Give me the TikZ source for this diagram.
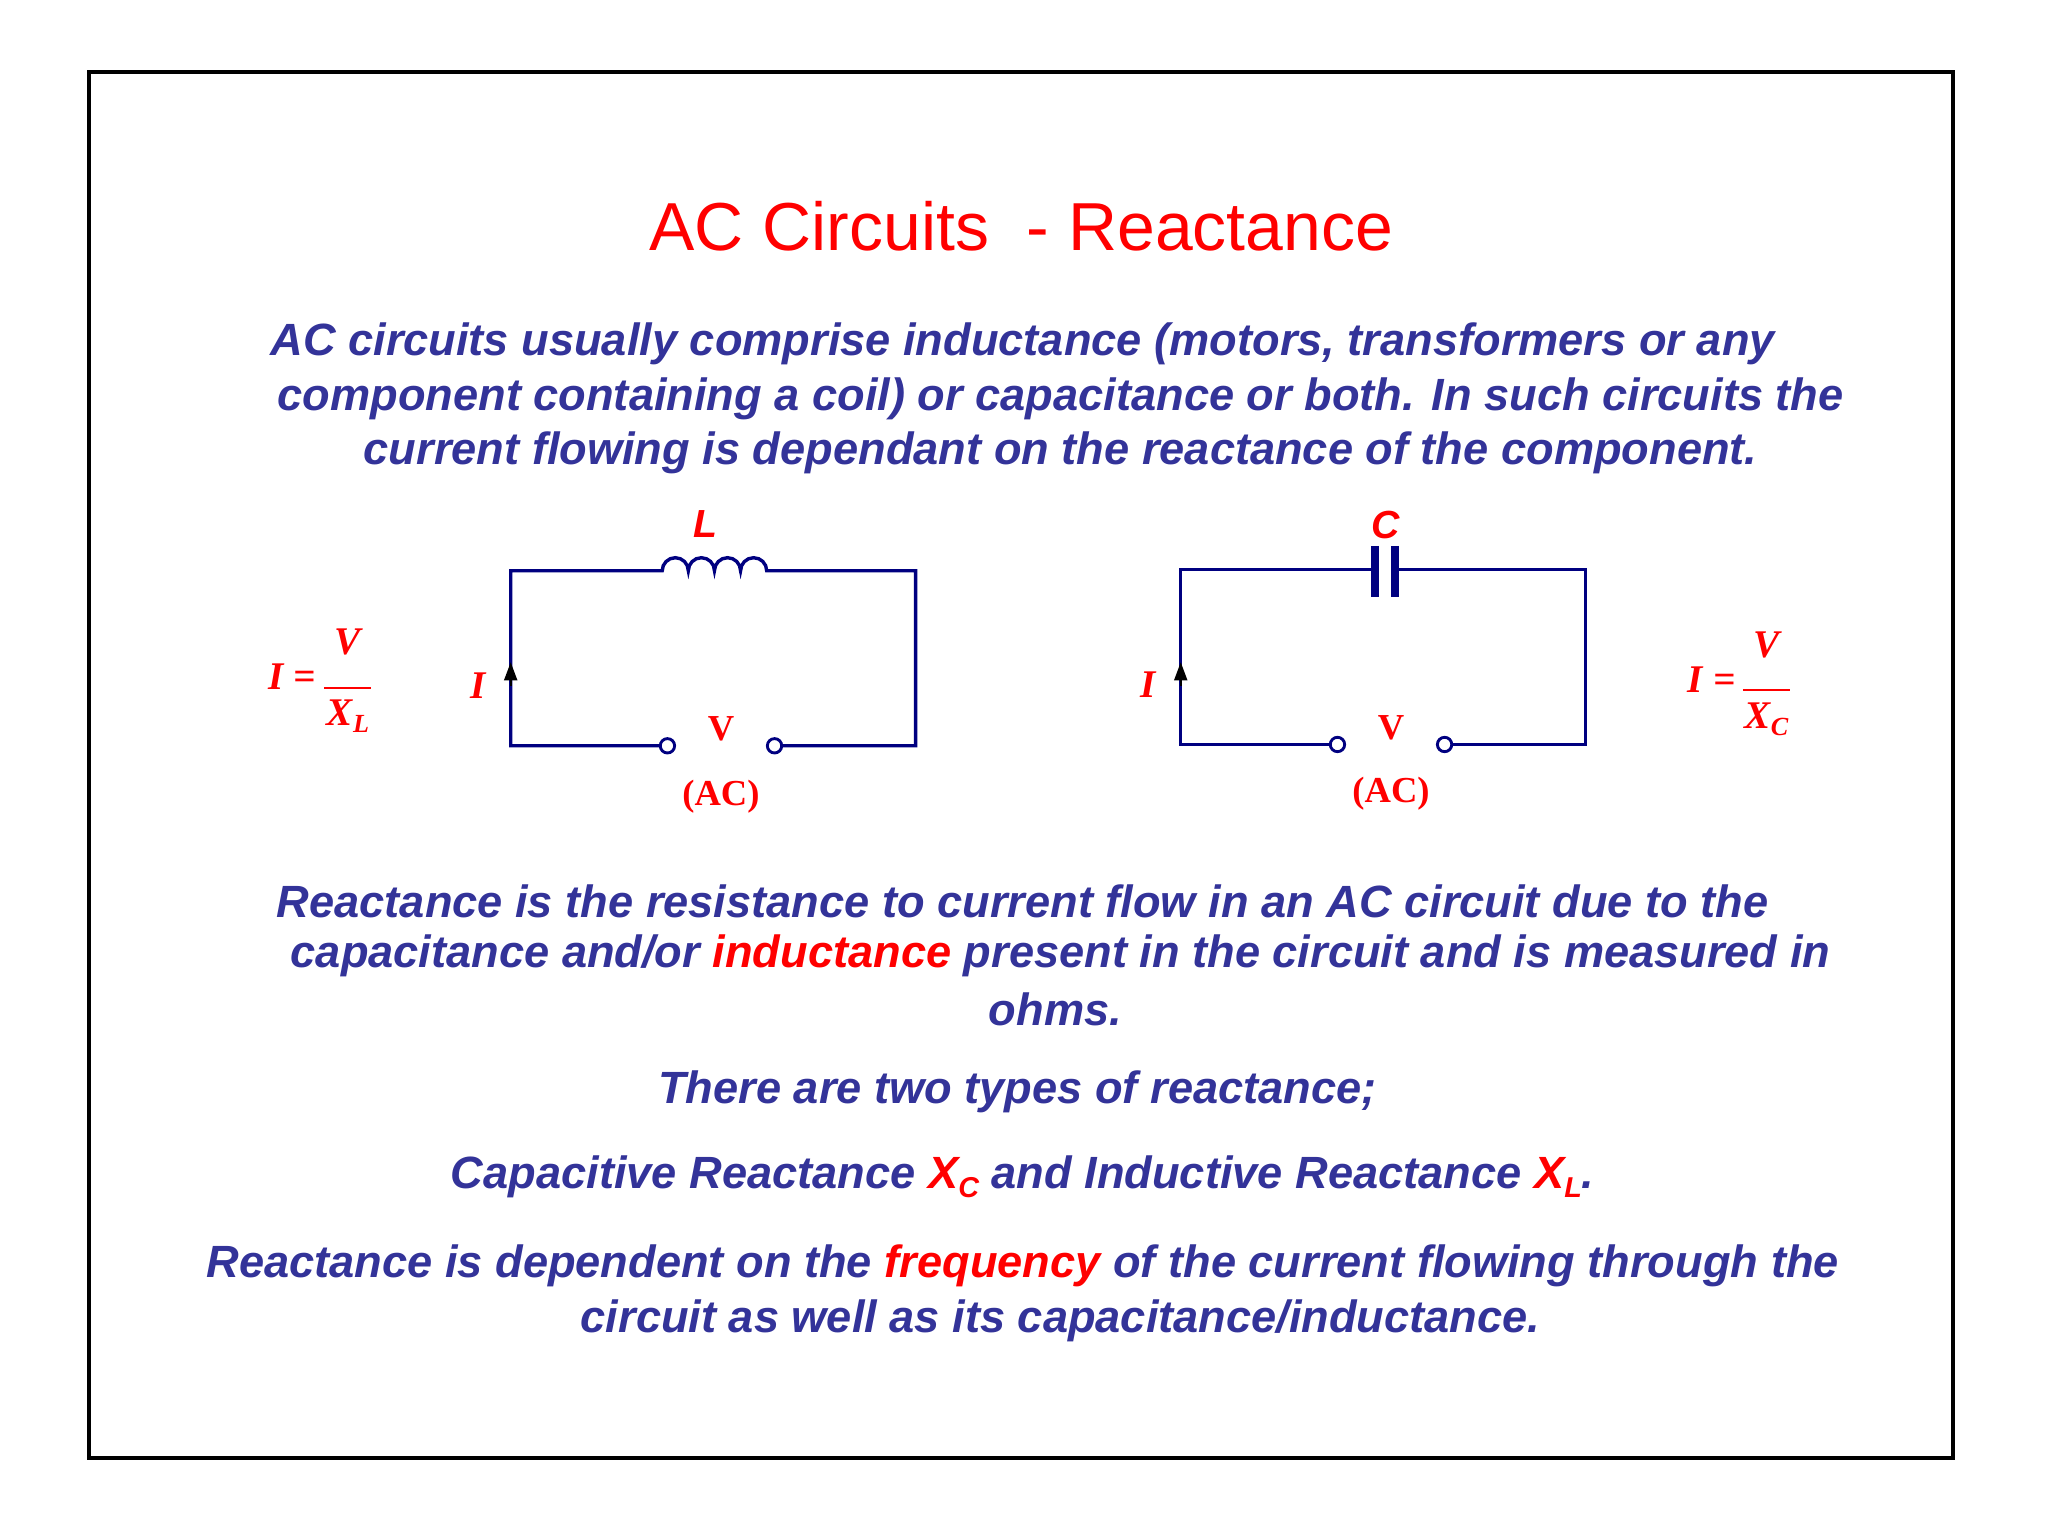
\documentclass[tikz,border=0pt]{standalone}
\usepackage{fontspec}
\setmainfont{Liberation Sans}
\newfontfamily\tms{Liberation Serif}
\usetikzlibrary{arrows.meta}
\definecolor{tblue}{RGB}{51,51,153}
\definecolor{wire}{RGB}{0,0,128}
\definecolor{tred}{RGB}{255,0,0}
\tikzset{
 txt/.style={text=tblue,font=\fontsize{17.3}{20}\selectfont\bfseries\itshape,inner sep=0},
 w/.style={draw=wire,line width=1.3pt},
 term/.style={circle,draw=wire,line width=1.1pt,fill=white,minimum size=5.5pt,inner sep=0},
 lab/.style={text=tred,font=\tms\fontsize{14}{16}\selectfont\bfseries,inner sep=0},
 ilab/.style={text=tred,font=\tms\fontsize{15}{16}\selectfont\bfseries\itshape,inner sep=0},
}
\newcommand{\fracf}[2]{\begin{tabular}{@{}c@{}}#1\\[-3pt]\rule{18pt}{0.8pt}\\[-2pt]#2\end{tabular}}
\begin{document}
\begin{tikzpicture}[x=0.5pt,y=-0.5pt]
\useasboundingbox (0,0) rectangle (1568,1176);
\draw[line width=1.5pt] (68,55) rectangle (1495,1116);
\node[text=tred,font=\fontsize{26}{30}\selectfont,inner sep=0] (title) at (782,173) {AC Circuits\ \ - Reactance};
\node[txt] (p1) at (783,263) {AC circuits usually comprise inductance (motors, transformers or any};
\node[txt] (p2) at (812,305) {component containing a coil) or capacitance or both. In such circuits the};
\node[txt] (p3) at (812,347) {current flowing is dependant on the reactance of the component.};
% left circuit
\coordinate (a1) at (391,571); \coordinate (a2) at (391,437); \coordinate (a3) at (701,437); \coordinate (a4) at (701,571);
\node[term] (t1) at (511,571) {}; \node[term] (t2) at (593,571) {};
\draw[w] (t1) -- (a1) -- (a2) -- (507,437) arc(180:360:10) arc(180:360:10) arc(180:360:10) arc(180:360:10) -- (a3) -- (a4) -- (t2);
\draw[-{Triangle[length=7pt,width=5pt]},line width=0.8pt] (391,525) -- (391,507);
\node[text=tred,font=\fontsize{15}{16}\selectfont\bfseries\itshape] (L) at (540,401) {L};
\node[lab] (v1) at (552,558) {V};
\node[lab] (ac1) at (552,610) {(AC)};
\node[ilab] (i1) at (366,525) {I};
\node[ilab,anchor=east] (i1f) at (242,518) {I =};
\node[ilab,anchor=west] (f1) at (248,522) {\fracf{V}{X\raisebox{-0.4ex}{\fontsize{10}{10}\selectfont L}}};
% right circuit
\coordinate (b1) at (904,570); \coordinate (b2) at (904,436); \coordinate (b3) at (1214,436); \coordinate (b4) at (1214,570);
\node[term] (t3) at (1024,570) {}; \node[term] (t4) at (1106,570) {};
\draw[w] (t3) -- (b1) -- (b2) -- (1053,436);
\draw[w] (1068,436) -- (b3) -- (b4) -- (t4);
\draw[draw=wire,line width=3pt] (1053,418) -- (1053,457) (1068,418) -- (1068,457);
\draw[-{Triangle[length=7pt,width=5pt]},line width=0.8pt] (904,525) -- (904,507);
\node[text=tred,font=\fontsize{15}{16}\selectfont\bfseries\itshape] (C) at (1061,402) {C};
\node[lab] (v2) at (1065,557) {V};
\node[lab] (ac2) at (1065,608) {(AC)};
\node[ilab] (i2) at (879,524) {I};
\node[ilab,anchor=east] (i2f) at (1329,520) {I =};
\node[ilab,anchor=west] (f2) at (1334,524) {\fracf{V}{X\raisebox{-0.4ex}{\fontsize{10}{10}\selectfont C}}};
% lower text
\node[txt] (q1) at (783,690) {Reactance is the resistance to current flow in an AC circuit due to the};
\node[txt] (q2) at (812,732) {capacitance and/or \textcolor{tred}{inductance} present in the circuit and is measured in};
\node[txt] (q3) at (808,773) {ohms.};
\node[txt] (q4) at (779,836) {There are two types of reactance;};
\node[txt] (q5) at (783,901) {Capacitive Reactance \textcolor{tred}{X\raisebox{-0.4ex}{\fontsize{11}{11}\selectfont C}} and Inductive Reactance \textcolor{tred}{X\raisebox{-0.4ex}{\fontsize{11}{11}\selectfont L}}.};
\node[txt] (q6) at (783,969) {Reactance is dependent on the \textcolor{tred}{frequency} of the current flowing through the};
\node[txt] (q7) at (812,1011) {circuit as well as its capacitance/inductance.};
\end{tikzpicture}
\end{document}
